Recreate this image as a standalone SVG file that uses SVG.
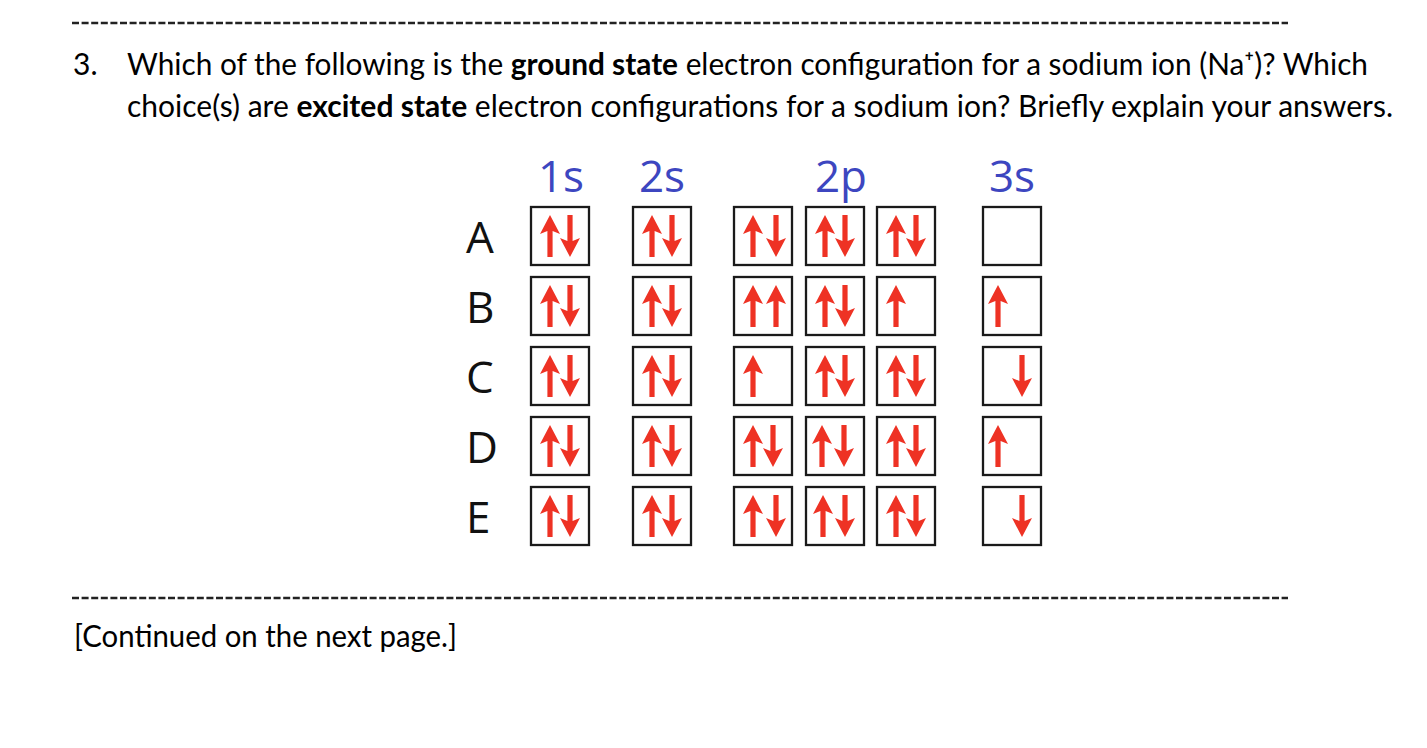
<svg xmlns="http://www.w3.org/2000/svg" xmlns:xlink="http://www.w3.org/1999/xlink" width="1427" height="748" viewBox="0 0 1427 748">
<style>
.q{font-family:Lato,"Open Sans","Liberation Sans",sans-serif;font-size:30px;fill:#000}
.b{font-weight:bold}
.orb{font-family:"Open Sans","Noto Sans","Liberation Sans",sans-serif;font-size:44px;fill:#3d46c0;text-anchor:middle}
.row{font-family:"Open Sans","Noto Sans","Liberation Sans",sans-serif;font-size:44px;fill:#111}
.box{fill:#fff;stroke:#1a1a1a;stroke-width:2.3}
.ar{fill:#ee3224}
.dash{stroke:#222;stroke-width:2.4;stroke-dasharray:7 2.6;fill:none}
</style>
<defs>
<path id="up" class="ar" d="M0,9 L10,28 L2.6,25 L2.6,51 L-2.6,51 L-2.6,25 L-10,28 Z"/>
<path id="dn" class="ar" d="M0,51 L10,32 L2.6,35 L2.6,9 L-2.6,9 L-2.6,35 L-10,32 Z"/>
</defs>
<rect width="1427" height="748" fill="#fff"/>
<g id="rules">
<line class="dash" x1="72" y1="23" x2="1288" y2="23"/>
<line class="dash" x1="72" y1="598" x2="1288" y2="598"/>
</g>
<g id="question">
<text class="q" x="73" y="75">3.</text>
<text class="q" x="127" y="75" textLength="1241" lengthAdjust="spacingAndGlyphs">Which of the following is the <tspan class="b">ground state</tspan> electron configuration for a sodium ion (Na⁺)? Which</text>
<text class="q" x="127" y="117" textLength="1266" lengthAdjust="spacingAndGlyphs">choice(s) are <tspan class="b">excited state</tspan> electron configurations for a sodium ion? Briefly explain your answers.</text>
<text class="q" x="74" y="647" textLength="383" lengthAdjust="spacingAndGlyphs">[Continued on the next page.]</text>
</g>
<g id="orbital-labels">
<text class="orb" x="561" y="192">1s</text>
<text class="orb" x="662" y="192">2s</text>
<text class="orb" x="841" y="192">2p</text>
<text class="orb" x="1012" y="192">3s</text>
</g>
<g id="row-labels">
<text class="row" x="466" y="253">A</text>
<text class="row" x="466" y="323">B</text>
<text class="row" x="466" y="393">C</text>
<text class="row" x="466" y="463">D</text>
<text class="row" x="466" y="533">E</text>
</g>
<g id="row-A" transform="translate(0,206)">
<rect class="box" x="531" y="1" width="58" height="58"/><use href="#up" x="550"/><use href="#dn" x="570"/>
<rect class="box" x="633" y="1" width="58" height="58"/><use href="#up" x="652"/><use href="#dn" x="672"/>
<rect class="box" x="734" y="1" width="58" height="58"/><use href="#up" x="753"/><use href="#dn" x="776"/>
<rect class="box" x="806" y="1" width="58" height="58"/><use href="#up" x="825"/><use href="#dn" x="845"/>
<rect class="box" x="877" y="1" width="58" height="58"/><use href="#up" x="896"/><use href="#dn" x="916"/>
<rect class="box" x="983" y="1" width="58" height="58"/>
</g>
<g id="row-B" transform="translate(0,276)">
<rect class="box" x="531" y="1" width="58" height="58"/><use href="#up" x="550"/><use href="#dn" x="570"/>
<rect class="box" x="633" y="1" width="58" height="58"/><use href="#up" x="652"/><use href="#dn" x="672"/>
<rect class="box" x="734" y="1" width="58" height="58"/><use href="#up" x="753"/><use href="#up" x="776"/>
<rect class="box" x="806" y="1" width="58" height="58"/><use href="#up" x="825"/><use href="#dn" x="845"/>
<rect class="box" x="877" y="1" width="58" height="58"/><use href="#up" x="896"/>
<rect class="box" x="983" y="1" width="58" height="58"/><use href="#up" x="998"/>
</g>
<g id="row-C" transform="translate(0,346)">
<rect class="box" x="531" y="1" width="58" height="58"/><use href="#up" x="550"/><use href="#dn" x="570"/>
<rect class="box" x="633" y="1" width="58" height="58"/><use href="#up" x="652"/><use href="#dn" x="672"/>
<rect class="box" x="734" y="1" width="58" height="58"/><use href="#up" x="753"/>
<rect class="box" x="806" y="1" width="58" height="58"/><use href="#up" x="825"/><use href="#dn" x="845"/>
<rect class="box" x="877" y="1" width="58" height="58"/><use href="#up" x="896"/><use href="#dn" x="916"/>
<rect class="box" x="983" y="1" width="58" height="58"/><use href="#dn" x="1022"/>
</g>
<g id="row-D" transform="translate(0,416)">
<rect class="box" x="531" y="1" width="58" height="58"/><use href="#up" x="550"/><use href="#dn" x="570"/>
<rect class="box" x="633" y="1" width="58" height="58"/><use href="#up" x="652"/><use href="#dn" x="672"/>
<rect class="box" x="734" y="1" width="58" height="58"/><use href="#up" x="753"/><use href="#dn" x="773"/>
<rect class="box" x="806" y="1" width="58" height="58"/><use href="#up" x="822"/><use href="#dn" x="844"/>
<rect class="box" x="877" y="1" width="58" height="58"/><use href="#up" x="896"/><use href="#dn" x="916"/>
<rect class="box" x="983" y="1" width="58" height="58"/><use href="#up" x="998"/>
</g>
<g id="row-E" transform="translate(0,486)">
<rect class="box" x="531" y="1" width="58" height="58"/><use href="#up" x="550"/><use href="#dn" x="570"/>
<rect class="box" x="633" y="1" width="58" height="58"/><use href="#up" x="652"/><use href="#dn" x="672"/>
<rect class="box" x="734" y="1" width="58" height="58"/><use href="#up" x="753"/><use href="#dn" x="776"/>
<rect class="box" x="806" y="1" width="58" height="58"/><use href="#up" x="823"/><use href="#dn" x="845"/>
<rect class="box" x="877" y="1" width="58" height="58"/><use href="#up" x="896"/><use href="#dn" x="916"/>
<rect class="box" x="983" y="1" width="58" height="58"/><use href="#dn" x="1022"/>
</g>
</svg>
